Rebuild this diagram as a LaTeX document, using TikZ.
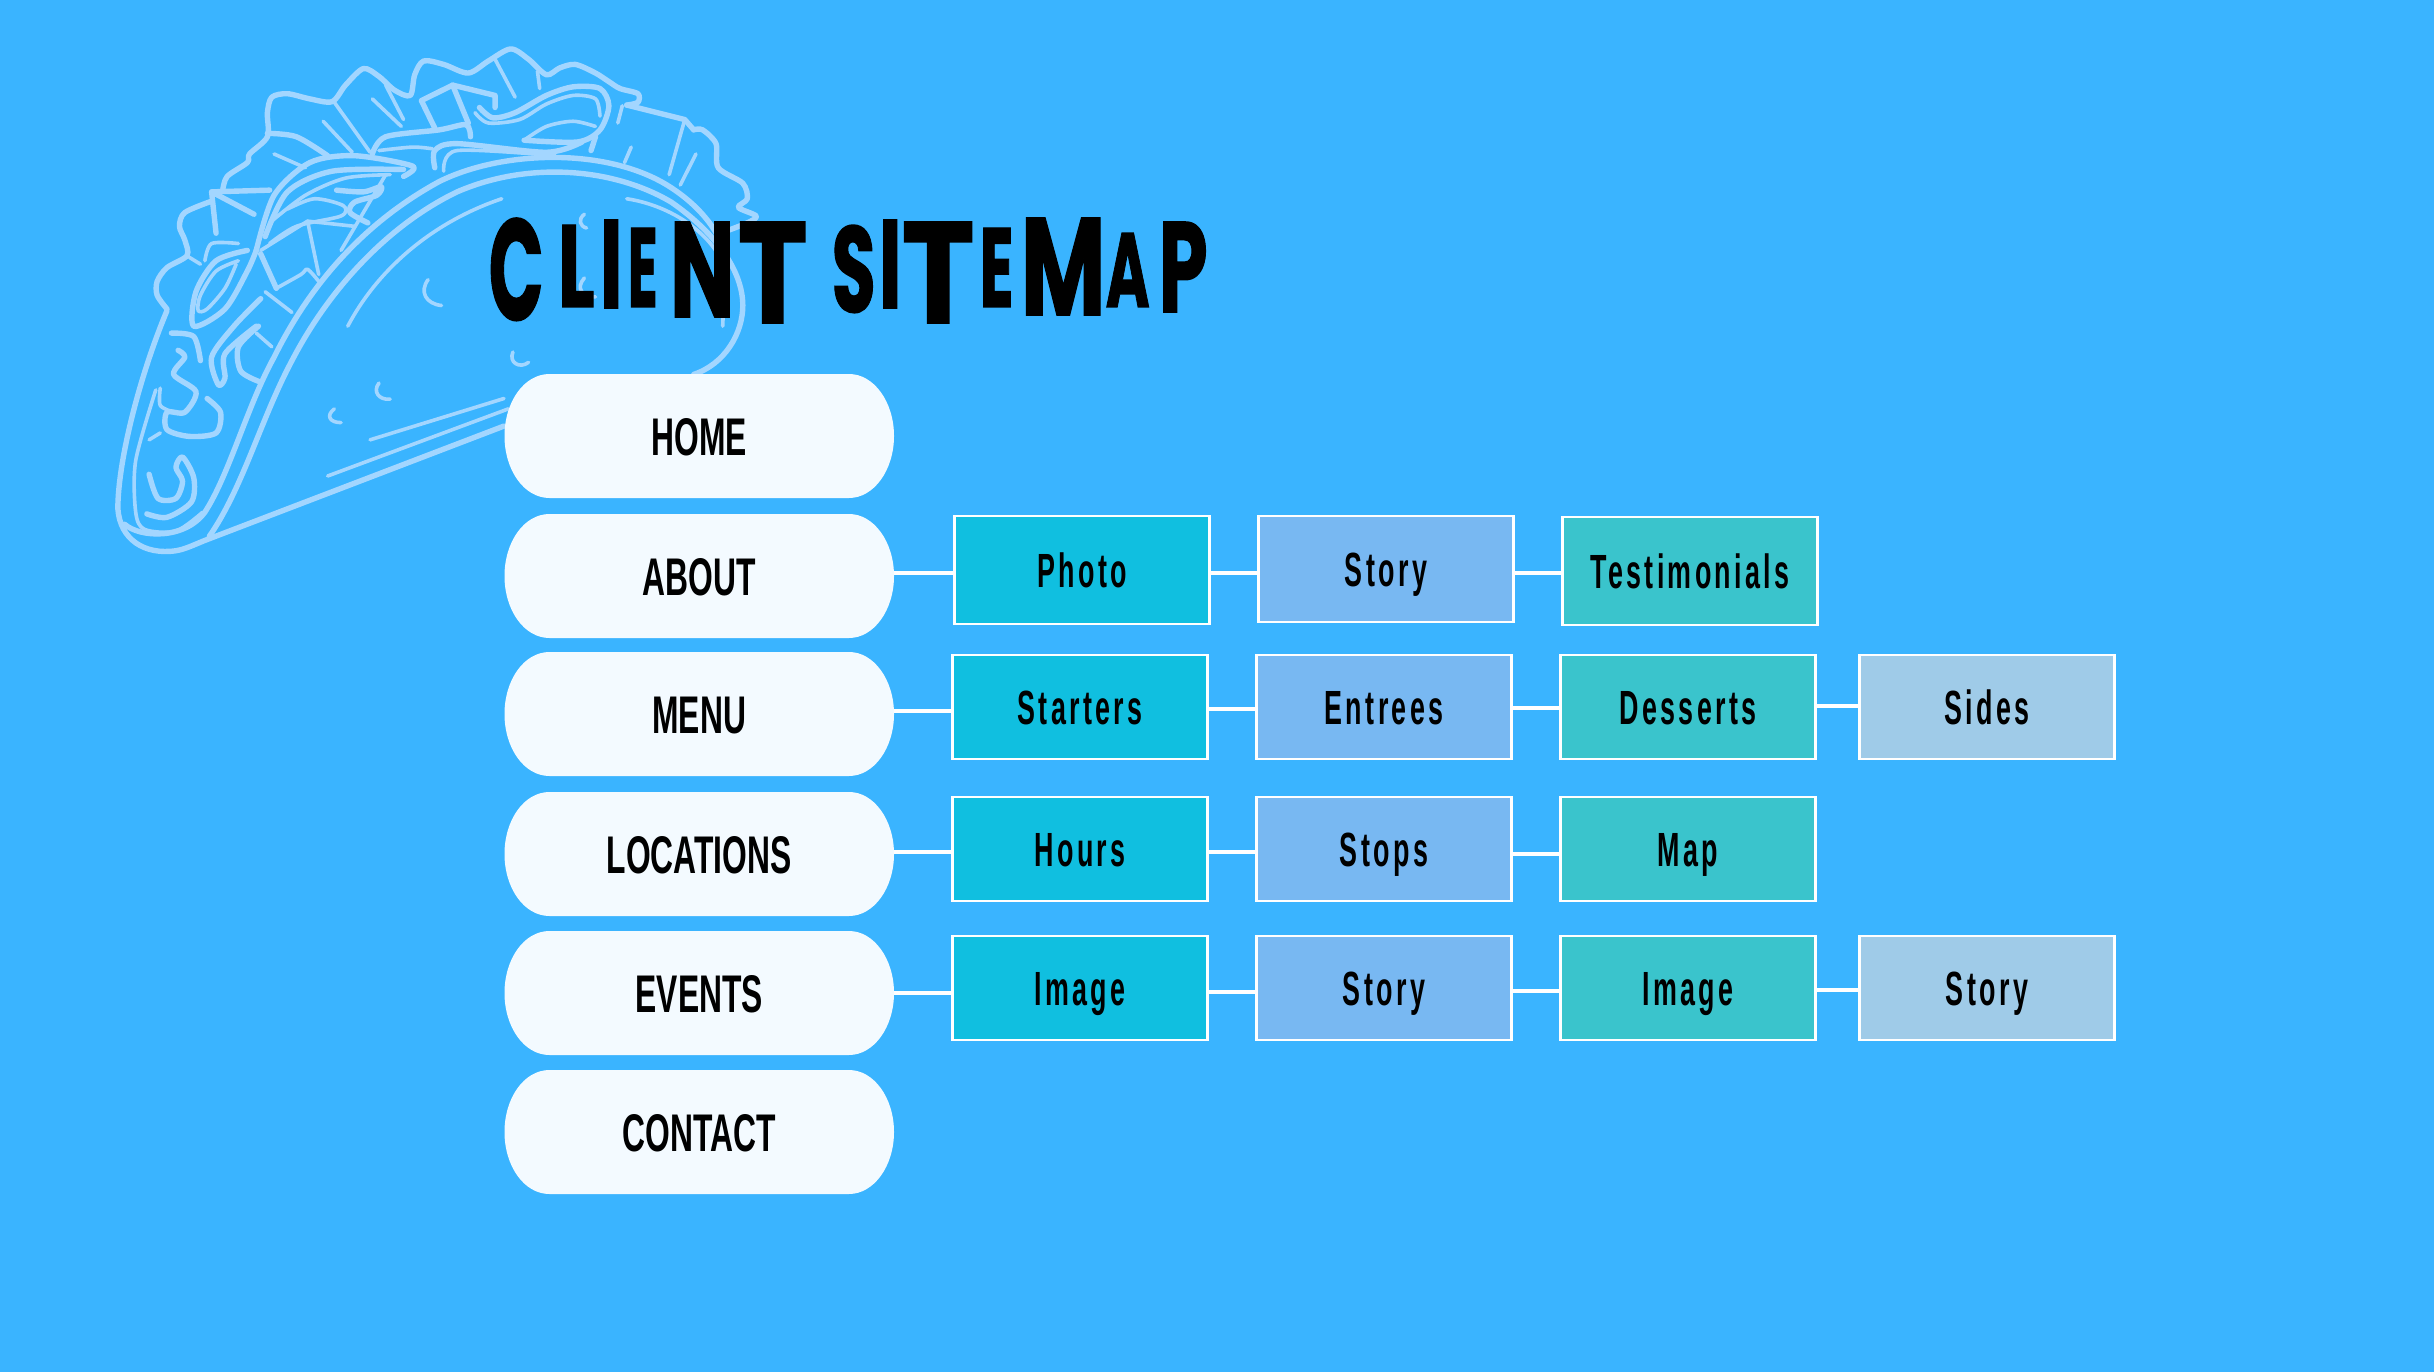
\documentclass[tikz,border=0pt]{standalone}
\usepackage{fontspec}
\usepackage{graphicx}
\newfontfamily\pillfont[FakeStretch=0.6]{Liberation Sans}
\newfontfamily\boxfont[FakeStretch=0.56,LetterSpace=7]{Liberation Sans}
\newfontfamily\titlefont[FakeBold=1.2]{Poppins}
\definecolor{bgc}{HTML}{3AB4FF}
\definecolor{pillc}{HTML}{F3FAFF}
\definecolor{tacoc}{HTML}{A3D6FF}
\definecolor{cyanc}{HTML}{10BFE0}
\definecolor{bluec}{HTML}{78B8F2}
\definecolor{tealc}{HTML}{3AC4CC}
\definecolor{palec}{HTML}{9FCBE8}
\tikzset{
  taco/.style={draw=tacoc,line width=5.4pt,line cap=round,line join=round},
  tacothin/.style={draw=tacoc,line width=3.6pt,line cap=round,line join=round},
  conn/.style={draw=white,line width=4.5pt},
  pilltext/.style={inner sep=0pt,minimum width=389.5pt,minimum height=124pt,text height=38pt,text depth=0pt,text=black,font=\pillfont\bfseries\fontsize{53}{53}\selectfont},
  subbox/.style={draw=white,line width=2.8pt,inner sep=0pt,minimum width=255pt,text height=34pt,text depth=0pt,text=black,font=\boxfont\bfseries\fontsize{48}{48}\selectfont}
}
\newcommand{\tl}[5]{\makebox[0pt][l]{\hspace{#1pt}\raisebox{\dimexpr 323pt-#4pt\relax}{\resizebox{#2pt}{\dimexpr #4pt-#3pt\relax}{#5}}}}
\newcommand{\pillshape}[3]{\fill[pillc] (504.5,#1) .. controls (504.5,#1-34) and (524,#1-62) .. (549.5,#1-62) -- (849,#1-62) .. controls (874,#1-62) and (894,#1-34) .. (894,#1) .. controls (894,#1+34) and (874,#1+62) .. (849,#1+62) -- (549.5,#1+62) .. controls (524,#1+62) and (504.5,#1+34) .. (504.5,#1) -- cycle;
  \node[pilltext] (#2) at (699.25,#1) {#3};}
\begin{document}
\begin{tikzpicture}[x=1pt,y=-1pt]
\useasboundingbox (0,0) rectangle (2434,1372);
\fill[bgc] (0,0) rectangle (2434,1372);

\begin{scope}[shift={(100,30)},x=0.4464pt,y=-0.3444pt]
\path[taco] (150,815) .. controls (90,1000) and (40,1250) .. (40,1390) .. controls (45,1480) and (100,1525) .. (170,1512) .. controls (190,1508) and (210,1495) .. (235,1482) -- (905,1150);
\path[taco] (55,1435) .. controls (90,1475) and (190,1480) .. (235,1400) .. controls (290,1290) and (330,1090) .. (390,950) .. controls (470,740) and (590,560) .. (760,440) .. controls (900,350) and (1130,340) .. (1270,450) .. controls (1320,490) and (1360,540) .. (1385,600);
\path[taco] (245,1470) .. controls (320,1330) and (360,1130) .. (430,960) .. controls (510,760) and (640,570) .. (800,470) .. controls (960,380) and (1150,400) .. (1280,500) .. controls (1380,590) and (1440,700) .. (1440,800) .. controls (1440,880) and (1400,970) .. (1330,1000);
\path[tacothin] (555,860) .. controls (620,700) and (740,560) .. (900,490);
\path[tacothin] (1180,490) .. controls (1280,510) and (1370,590) .. (1400,690) -- (1395,860);
\path[tacothin] (605,1190) -- (905,1070);
\path[tacothin] (510,1295) -- (915,1100);
\path[tacothin] (735,725) .. controls (715,760) and (730,795) .. (765,800);
\path[tacothin] (925,935) .. controls (915,965) and (940,985) .. (960,965);
\path[tacothin] (625,1025) .. controls (610,1050) and (625,1075) .. (650,1072);
\path[tacothin] (525,1100) .. controls (505,1120) and (515,1140) .. (540,1140);
\path[tacothin] (1085,535) .. controls (1070,550) and (1075,570) .. (1090,575);
\path[tacothin] (1085,720) .. controls (1065,750) and (1080,775) .. (1110,775);
\path[taco] plot[smooth] coordinates {(150,810) (128,770) (128,730) (150,690) (195,655) (190,610) (178,570) (190,530) (250,497)};
\path[taco] plot[smooth] coordinates {(275,465) (285,425) (330,385) (335,360) (375,310) (375,240) (385,195) (420,185) (470,200) (520,208) (550,160) (590,112) (625,135) (660,175) (695,190) (705,130) (725,90) (770,100) (825,125) (870,90) (920,55) (960,85) (1000,130) (1030,110) (1065,100) (1110,125) (1140,150) (1165,170) (1205,185) (1205,210) (1180,218)};
\path[taco] (1180,218) -- (1310,260) -- (1330,290);
\path[taco] plot[smooth] coordinates {(1330,290) (1350,290) (1380,330) (1385,400) (1440,445) (1450,490) (1430,515) (1470,540) (1450,560) (1390,590)};
\path[tacothin] (525,210) -- (605,355);
\path[tacothin] (500,265) -- (565,355);
\path[tacothin] (610,200) -- (675,280);
\path[tacothin] (640,160) -- (680,260);
\path[tacothin] (885,85) -- (930,195);
\path[tacothin] (980,120) -- (985,170);
\path[tacothin] (390,360) -- (460,400);
\path[tacothin] (1170,220) -- (1160,270);
\path[tacothin] (1310,260) -- (1275,420);
\path[tacothin] (1335,360) -- (1300,450);
\path[tacothin] (1190,340) -- (1175,385);
\path[tacothin] (200,660) -- (225,680);
\path[taco] plot[smooth] coordinates {(375,300) (440,310) (510,365)};
\path[taco] (885,225) -- (885,190) -- (790,160) -- (720,205) -- (750,285);
\path[taco] (790,160) -- (825,270);
\path[taco] (260,590) -- (250,470) -- (345,535);
\path[taco] (250,470) -- (380,465);
\path[taco] (1100,350) -- (1110,310);
\path[taco] plot[smooth] coordinates {(850,225) (880,255) (930,240) (1000,190) (1060,165) (1120,170) (1140,220) (1120,290) (1070,325) (950,320)};
\path[tacothin] plot[smooth] coordinates {(840,240) (870,270) (940,260) (1000,215) (1060,190) (1110,200) (1120,250)};
\path[tacothin] plot[smooth] coordinates {(950,320) (1000,280) (1060,265) (1110,280)};
\path[taco] plot[smooth] coordinates {(750,400) (750,350) (800,330) (1000,355) (1080,325)};
\path[tacothin] plot[smooth] coordinates {(770,410) (800,350) (1020,365)};
\path[taco] plot[smooth] coordinates {(610,360) (640,310) (760,290) (820,275) (830,310)};
\path[tacothin] plot[smooth] coordinates {(625,350) (700,340) (745,345)};
\path[taco] plot[smooth] coordinates {(350,640) (390,480) (470,385) (570,365) (700,395) (680,425)};
\path[taco] plot[smooth] coordinates {(370,600) (420,470) (520,410) (680,405)};
\path[tacothin] plot[smooth] coordinates {(380,560) (460,480) (550,430) (650,420)};
\path[tacothin] (360,640) -- (465,555) -- (570,570);
\path[tacothin] (465,555) -- (490,710);
\path[taco] (360,650) -- (395,750);
\path[tacothin] plot[smooth] coordinates {(395,750) (450,710) (465,695) (490,730)};
\path[tacothin] (370,760) -- (430,820);
\path[taco] plot[smooth] coordinates {(530,465) (590,470) (630,455) (620,480) (570,500) (560,530) (600,560)};
\path[tacothin] plot[smooth] coordinates {(420,520) (480,490) (545,510) (540,540) (440,570) (380,620)};
\path[tacothin] plot[smooth] coordinates {(640,420) (590,530) (540,640)};
\path[taco] plot[smooth] coordinates {(330,640) (260,670) (215,760) (210,860) (280,810) (330,700) (350,640)};
\path[tacothin] plot[smooth] coordinates {(310,670) (260,700) (225,770) (220,815) (240,810) (280,750) (305,680)};
\path[tacothin] plot[smooth] coordinates {(235,670) (250,620) (310,620)};
\path[taco] plot[smooth] coordinates {(360,780) (300,860) (250,950) (265,1030) (280,1010) (280,940) (350,860)};
\path[taco] plot[smooth] coordinates {(355,860) (310,920) (315,990) (355,1020)};
\path[tacothin] (350,880) -- (385,920);
\path[taco] plot[smooth] coordinates {(160,880) (210,890) (225,960)};
\path[taco] plot[smooth] coordinates {(175,930) (190,950) (165,1000) (215,1050) (190,1110) (150,1110) (150,1160) (200,1180) (260,1170) (270,1110) (240,1070)};
\path[tacothin] plot[smooth] coordinates {(135,1040) (135,1090) (165,1110)};
\path[tacothin] (110,1190) -- (135,1170);
\path[taco] plot[smooth] coordinates {(110,1290) (130,1360) (170,1360) (185,1310) (170,1270) (185,1240) (210,1300) (205,1370) (150,1415) (105,1405)};
\path[tacothin] plot[smooth] coordinates {(125,1045) (80,1250) (80,1400) (100,1450) (170,1455) (230,1400)};
\end{scope}

\node[inner sep=0pt,anchor=base west,text=black,font=\titlefont\bfseries\fontsize{100}{100}\selectfont] (title) at (0,323) {%
\tl{488}{55}{218}{320}{C}\tl{557}{37}{225}{307}{L}\tl{599}{23}{220}{308}{I}\tl{627}{30}{228}{307}{E}\tl{669}{65}{222}{317}{N}\tl{737}{70}{222}{323}{T}%
\tl{831}{44}{225}{312}{S}\tl{878}{23}{220}{308}{I}\tl{901}{73}{222}{323}{T}\tl{979}{34}{228}{307}{E}\tl{1020}{85}{218}{315}{M}\tl{1105}{44}{233}{307}{A}\tl{1158}{49}{222}{312}{P}};

\tikzset{bxa/.style={subbox,minimum height=108pt},bxb/.style={subbox,minimum height=104pt}}
\node[bxa,fill=cyanc] (ph) at (1082,570) {Photo};
\node[bxa,fill=bluec,minimum height=106pt] (st) at (1386,569) {Story};
\node[bxa,fill=tealc] (te) at (1690,571) {Testimonials};

\node[bxb,fill=cyanc] (sta) at (1080,707) {Starters};
\node[bxb,fill=bluec] (en) at (1384,707) {Entrees};
\node[bxb,fill=tealc] (de) at (1688,707) {Desserts};
\node[bxb,fill=palec] (si) at (1987,707) {Sides};

\node[bxb,fill=cyanc] (ho) at (1080,849) {Hours};
\node[bxb,fill=bluec] (sto) at (1384,849) {Stops};
\node[bxb,fill=tealc] (ma) at (1688,849) {Map};

\node[bxb,fill=cyanc] (im) at (1080,988) {Image};
\node[bxb,fill=bluec] (sr) at (1384,988) {Story};
\node[bxb,fill=tealc] (ig) at (1688,988) {Image};
\node[bxb,fill=palec] (sy) at (1987,988) {Story};

\pillshape{436}{home}{HOME}
\pillshape{576}{about}{ABOUT}
\pillshape{714}{menu}{MENU}
\pillshape{854}{loc}{LOCATIONS}
\pillshape{993}{ev}{EVENTS}
\pillshape{1132}{con}{CONTACT}

\draw[conn] (about.east |- 0,573) -- (ph.west |- 0,573);
\draw[conn] (ph.east |- 0,573) -- (st.west |- 0,573);
\draw[conn] (st.east |- 0,573) -- (te.west |- 0,573);
\draw[conn] (menu.east |- 0,711) -- (sta.west |- 0,711);
\draw[conn] (sta.east |- 0,709) -- (en.west |- 0,709);
\draw[conn] (en.east |- 0,708) -- (de.west |- 0,708);
\draw[conn] (de.east |- 0,706) -- (si.west |- 0,706);
\draw[conn] (loc.east |- 0,852) -- (ho.west |- 0,852);
\draw[conn] (ho.east |- 0,852) -- (sto.west |- 0,852);
\draw[conn] (sto.east |- 0,854) -- (ma.west |- 0,854);
\draw[conn] (ev.east |- 0,993) -- (im.west |- 0,993);
\draw[conn] (im.east |- 0,992) -- (sr.west |- 0,992);
\draw[conn] (sr.east |- 0,991) -- (ig.west |- 0,991);
\draw[conn] (ig.east |- 0,990) -- (sy.west |- 0,990);
\end{tikzpicture}
\end{document}
